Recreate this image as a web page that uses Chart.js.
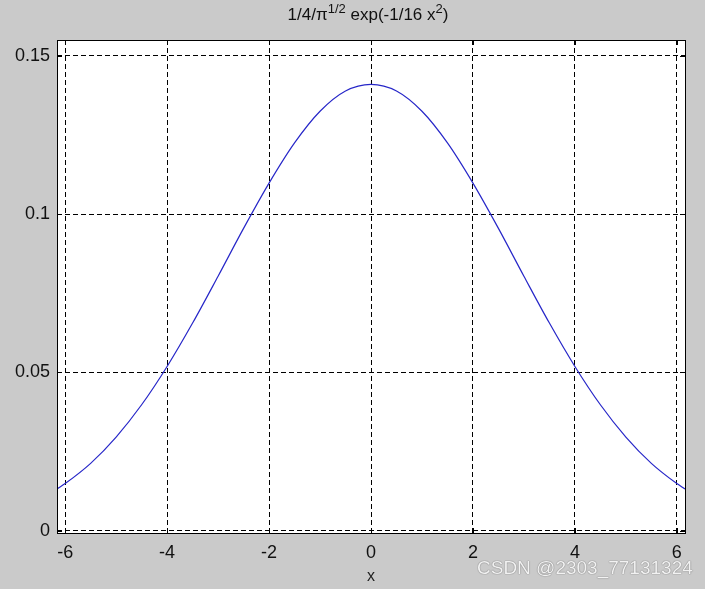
<!DOCTYPE html>
<html>
<head>
<meta charset="utf-8">
<script src="https://cdn.jsdelivr.net/npm/chart.js@4/dist/chart.umd.min.js"></script>
<style>
  body { margin: 0; background: #cacaca; }
  #wrap { position: relative; width: 705px; height: 589px; }
  #title {
    position: absolute; left: 0; width: 736px; top: 5px; text-align: center;
    font: 17px "Liberation Sans", Arial, sans-serif; color: #111;
  }
  #title sup { font-size: 13px; line-height: 0; vertical-align: 7px; }
  #mark {
    position: absolute; left: 477px; top: 557px;
    font: 19px "Liberation Sans", Arial, sans-serif; color: #f2f2f2;
    text-shadow: 0 0 1px #777, 0 0 1px #777;
  }
</style>
</head>
<body>
<div id="wrap">
  <canvas id="c" width="705" height="589"></canvas>
  <div id="title">1/4/&pi;<sup>1/2</sup> exp(-1/16 x<sup>2</sup>)</div>
  <div id="mark">CSDN @2303_77131324</div>
</div>
<script>
// values
const xs = [-6.16, -6, -5.5, -5, -4.5, -4, -3.5, -3, -2.5, -2, -1.5, -1, -0.5, 0,
            0.5, 1, 1.5, 2, 2.5, 3, 3.5, 4, 4.5, 5, 5.5, 6, 6.16];
const ys = [0.0132, 0.0149, 0.0213, 0.0296, 0.0398, 0.0519, 0.0656, 0.0804, 0.0955, 0.1098, 0.1225, 0.1325, 0.1389, 0.1410,
            0.1389, 0.1325, 0.1225, 0.1098, 0.0955, 0.0804, 0.0656, 0.0519, 0.0398, 0.0296, 0.0213, 0.0149, 0.0132];
const xTicks = [-6, -4, -2, 0, 2, 4, 6];
const yTicks = [0, 0.05, 0.1, 0.15];
const xRange = [-6.16, 6.16];
const yRange = [-0.0007, 0.155];

const points = xs.map((x, i) => ({ x: x, y: ys[i] }));

// white plot box, solid frame and inward tick marks
const frame = {
    id: 'frame',
    beforeDraw(chart) {
        const a = chart.chartArea, ctx = chart.ctx;
        ctx.save();
        ctx.fillStyle = '#ffffff';
        ctx.fillRect(a.left, a.top, a.right - a.left, a.bottom - a.top);
        ctx.restore();
    },
    afterDraw(chart) {
        const a = chart.chartArea, ctx = chart.ctx;
        ctx.save();
        ctx.strokeStyle = '#000';
        ctx.lineWidth = 1;
        ctx.strokeRect(Math.round(a.left) + 0.5, Math.round(a.top) + 0.5,
                       Math.round(a.right - a.left), Math.round(a.bottom - a.top));
        ctx.beginPath();
        xTicks.forEach(v => {
            const px = Math.round(chart.scales.x.getPixelForValue(v)) + 0.5;
            ctx.moveTo(px, a.bottom); ctx.lineTo(px, a.bottom - 5);
            ctx.moveTo(px, a.top); ctx.lineTo(px, a.top + 5);
        });
        yTicks.forEach(v => {
            const py = Math.round(chart.scales.y.getPixelForValue(v)) + 0.5;
            ctx.moveTo(a.left, py); ctx.lineTo(a.left + 5, py);
            ctx.moveTo(a.right, py); ctx.lineTo(a.right - 5, py);
        });
        ctx.stroke();
        ctx.restore();
    }
};

const tickFont = { family: '"Liberation Sans", Arial, sans-serif', size: 18 };

new Chart(document.getElementById('c'), {
    type: 'line',
    data: {
        datasets: [{
            data: points,
            borderColor: '#2626c8',
            borderWidth: 1.2,
            pointRadius: 0,
            tension: 0.4,
            cubicInterpolationMode: 'monotone',
            fill: false
        }]
    },
    options: {
        responsive: false,
        animation: false,
        layout: { padding: { top: 40, right: 20, left: 0, bottom: 0 } },
        plugins: { legend: { display: false }, tooltip: { enabled: false } },
        scales: {
            x: {
                type: 'linear',
                min: xRange[0],
                max: xRange[1],
                afterBuildTicks: s => { s.ticks = xTicks.map(v => ({ value: v })); },
                afterFit: s => { s.height = 56; },
                ticks: { color: '#111', font: tickFont, padding: 9, maxRotation: 0,
                         callback: v => String(v) },
                grid: { color: '#000', lineWidth: 1, drawTicks: false },
                border: { display: false, dash: [5, 3] },
                title: { display: true, text: 'x', color: '#222',
                         font: { family: '"Liberation Sans", Arial, sans-serif', size: 16 },
                         padding: { top: 0, bottom: 3 } }
            },
            y: {
                type: 'linear',
                min: yRange[0],
                max: yRange[1],
                afterBuildTicks: s => { s.ticks = yTicks.map(v => ({ value: v })); },
                afterFit: s => { s.width = 57; },
                ticks: { color: '#111', font: tickFont, padding: 7,
                         callback: v => String(v) },
                grid: { color: '#000', lineWidth: 1, drawTicks: false },
                border: { display: false, dash: [5, 3] }
            }
        }
    },
    plugins: [frame]
});
</script>
</body>
</html>
